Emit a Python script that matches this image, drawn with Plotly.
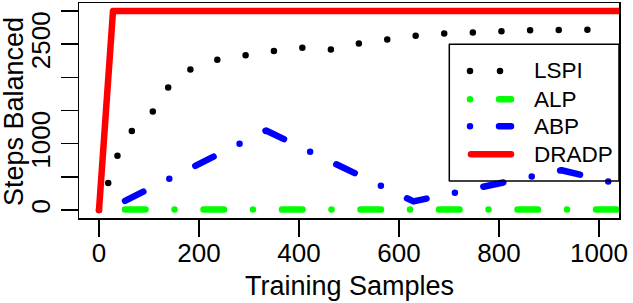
import plotly.graph_objects as go

# ---- data ----
lspi_x = [0, 19, 37, 65, 107, 137, 180, 233, 290, 346, 403, 460, 516, 573, 630, 687, 745, 803, 861, 918, 976, 1000]
lspi_y = [0, 407, 819, 1186, 1477, 1839, 2111, 2261, 2341, 2395, 2447, 2412, 2507, 2573, 2623, 2658, 2683, 2703, 2709, 2714, 2718, 2720]

alp_x = [52, 1050]
alp_y = [8, 8]

abp_x = [52, 334, 629, 925, 1050]
abp_y = [139, 1198, 130, 600, 372]

dradp_x = [0, 28, 1050]
dradp_y = [0, 3000, 3000]

series_names = ["LSPI", "ALP", "ABP", "DRADP"]

x_ticks = [0, 200, 400, 600, 800, 1000]
x_tick_labels = ["0", "200", "400", "600", "800", "1000"]
y_ticks = [0, 500, 1000, 1500, 2000, 2500, 3000]
y_tick_labels = ["0", "", "1000", "", "", "2500", ""]

# ---- styles ----
W, H = 633, 303
ML, MR, MT, MB = 79, 14, 3, 85
PW, PH = W - ML - MR, H - MT - MB
FONT = "Liberation Sans"
LW = 6.5

# dash patterns (lines get round caps, as in R's cairo output)
dash_dot = "0px,28.65px"
dash_dotdash = "20.5px,29px,0px,29px"


def px_x(p):
    return (p - ML) / PW


def px_y(p):
    return 1 - (p - MT) / PH


fig = go.Figure()
fig.add_trace(go.Scatter(x=lspi_x, y=lspi_y, mode="lines", name=series_names[0],
                         line=dict(color="black", width=LW, dash=dash_dot)))
fig.add_trace(go.Scatter(x=alp_x, y=alp_y, mode="lines", name=series_names[1],
                         line=dict(color="#00FF00", width=LW, dash=dash_dotdash)))
fig.add_trace(go.Scatter(x=abp_x, y=abp_y, mode="lines", name=series_names[2],
                         line=dict(color="#0000FF", width=LW, dash=dash_dotdash)))
fig.add_trace(go.Scatter(x=dradp_x, y=dradp_y, mode="lines", name=series_names[3],
                         line=dict(color="#FF0000", width=LW)))

axis_common = dict(showline=True, mirror=True, linecolor="black", linewidth=1.5,
                   ticks="outside", ticklen=17, tickwidth=1.5, tickcolor="black",
                   showgrid=False, zeroline=False, automargin=False,
                   tickfont=dict(family=FONT, size=26, color="black"))

fig.update_layout(
    width=W, height=H, margin=dict(l=ML, r=MR, t=MT, b=MB),
    paper_bgcolor="white", plot_bgcolor="white", showlegend=False,
    font=dict(family=FONT, color="black"),
    xaxis=dict(range=[-40, 1040], tickvals=x_ticks, ticktext=x_tick_labels,
               ticklabelstandoff=-6, **axis_common),
    yaxis=dict(range=[-120, 3120], tickvals=y_ticks, ticktext=y_tick_labels,
               tickangle=-90, **axis_common),
)

# axis titles
fig.add_annotation(text="Training Samples", xref="paper", yref="paper",
                   x=px_x(349.5), y=px_y(286.0), xanchor="center", yanchor="middle",
                   showarrow=False, font=dict(family=FONT, size=27, color="black"))
fig.add_annotation(text="Steps Balanced", xref="paper", yref="paper",
                   x=px_x(13.5), y=px_y(111.5), xanchor="center", yanchor="middle",
                   textangle=-90, showarrow=False, font=dict(family=FONT, size=27, color="black"))

# legend (drawn manually to match the boxed R legend)
fig.add_shape(type="rect", xref="paper", yref="paper",
              x0=px_x(449.3), x1=1, y0=px_y(181), y1=px_y(44.3),
              line=dict(color="black", width=1.5), fillcolor="rgba(0,0,0,0)")
rows = [71.0, 99.3, 126.2, 154.2]
colors = ["black", "#00FF00", "#0000FF", "#FF0000"]
leg_dash = ["0px,30px", "0px,29px,12px", "0px,29px,12px", "solid"]
leg_x0 = [470, 470, 470, 471]
leg_x1 = [501, 511, 511, 511]
for i, name in enumerate(series_names):
    fig.add_shape(type="line", xref="paper", yref="paper",
                  x0=px_x(leg_x0[i]), x1=px_x(leg_x1[i]), y0=px_y(rows[i]), y1=px_y(rows[i]),
                  line=dict(color=colors[i], width=LW, dash=leg_dash[i]))
    fig.add_annotation(text=name, xref="paper", yref="paper",
                       x=px_x(531.5), y=px_y(rows[i]), xanchor="left", yanchor="middle",
                       showarrow=False, font=dict(family=FONT, size=22.5, color="black"))

post = (
    "document.body.style.margin='0px';"
    "document.querySelectorAll('.scatterlayer path.js-line, .shapelayer path').forEach(function(p){"
    "p.style.strokeLinecap='round';p.style.strokeLinejoin='round';});"
)
fig.write_html("out.html", config={"displayModeBar": False, "staticPlot": True}, post_script=post)
